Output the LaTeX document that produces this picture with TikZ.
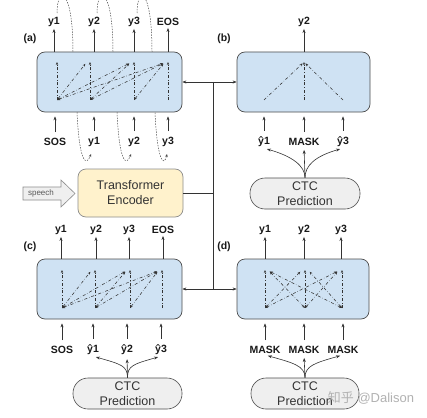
\documentclass[tikz,border=0pt]{standalone}
\usepackage{fontspec}
\setmainfont{Liberation Sans}
\newfontfamily\cjk{Noto Sans CJK SC}
\usetikzlibrary{arrows.meta,calc}
\definecolor{boxblue}{HTML}{CFE2F3}
\definecolor{boxyel}{HTML}{FFF2CC}
\definecolor{boxgray}{HTML}{EFEFEF}
\definecolor{edgec}{HTML}{4D4D4D}
\definecolor{lgray}{HTML}{8C8C8C}
\begin{document}
\begin{tikzpicture}[x=1pt,y=-1pt,
  blk/.style={draw=edgec, fill=boxblue, rounded corners=8pt, line width=0.7pt, inner sep=0pt},
  enc/.style={draw=lgray, fill=boxyel, rounded corners=8pt, line width=0.7pt, align=center, text=black!80, font=\fontsize{12.5}{15}\selectfont},
  ctc/.style={draw=edgec, fill=boxgray, rounded corners=15pt, line width=0.6pt, align=center, text=black!80, font=\fontsize{12.5}{14.5}\selectfont, minimum height=31pt},
  lbl/.style={font=\bfseries\fontsize{10.5}{12}\selectfont, inner sep=1pt, text=black!90},
  arr/.style={-{Stealth[length=4pt,width=3pt]}, draw=black!80, line width=0.6pt},
  att/.style={dash dot, line width=0.55pt, draw=black!80, -{Stealth[length=3pt,width=2.4pt]}},
  attb/.style={att, {Stealth[length=3pt,width=2.4pt]}-{Stealth[length=3pt,width=2.4pt]}},
  lp/.style={dash pattern=on 1.5pt off 1.2pt, line width=0.5pt, draw=black!70},
  lpa/.style={lp, -{Stealth[length=3pt,width=2.6pt]}}
]
\useasboundingbox (0,0) rectangle (427,417);
\fill[white] (0,0) rectangle (427,417);

% ---------- dashed loops of (a), drawn behind box
\foreach \xl/\xr/\xs/\xe in {57/73/77/91, 97/113/117/131, 137/152/155/167}{
  \draw[lpa] (\xl,13) .. controls (\xl,-14) and (\xr,-14) .. (\xr,52) -- (\xs,112)
        .. controls (\xs+2,160) and (\xs+9,168) .. (\xe,154);
}

% ---------- boxes
\node[blk, minimum width=145pt, minimum height=60pt] (A) at (109.5,82) {};
\node[blk, minimum width=133pt, minimum height=60pt] (B) at (303.5,82) {};
\node[blk, minimum width=145pt, minimum height=60pt] (C) at (109.5,289) {};
\node[blk, minimum width=132pt, minimum height=60pt] (D) at (303,289) {};
\node[enc, minimum width=105pt, minimum height=48pt] (E) at (130.5,193) {Transformer\\Encoder};

\node[ctc, minimum width=110pt] (CB) at (305,193.5) {CTC\\Prediction};
\node[ctc, minimum width=109pt] (CC) at (127.5,393.5) {CTC\\Prediction};
\node[ctc, minimum width=108pt] (CD) at (305,393.5) {CTC\\Prediction};

% ---------- speech arrow
\draw[draw=lgray, fill=boxgray, line width=0.6pt] (23,187) -- (61,187) -- (61,180) -- (75,193.5) -- (61,207) -- (61,200) -- (23,200) -- cycle;
\node[font=\fontsize{8}{9}\selectfont, text=black!65, inner sep=0pt] (sp) at (41,193.5) {speech};

% ---------- encoder connections
\coordinate (J) at (213,193);
\coordinate (Jt) at (213,82);
\coordinate (Jb) at (213,289);
\draw[line width=0.6pt, draw=black!80] (E.east) -- (J);
\draw[line width=0.6pt, draw=black!80] (Jt) -- (Jb);
\draw[arr] (Jt) -- (A.east);
\draw[arr] (Jt) -- (B.west);
\draw[arr] (Jb) -- (C.east);
\draw[arr] (Jb) -- (D.west);

% ---------- panel letters
\node[lbl] (la) at (30,39) {(a)};
\node[lbl] (lb) at (224,39) {(b)};
\node[lbl] (lc) at (30,247) {(c)};
\node[lbl] (ld) at (224,247) {(d)};

% ---------- (a) labels
\node[lbl] (ao1) at (54,22) {y1};
\node[lbl] (ao2) at (94,22) {y2};
\node[lbl] (ao3) at (134,22) {y3};
\node[lbl] (ao4) at (168,22) {EOS};
\node[lbl] (ai1) at (55,142) {SOS};
\node[lbl] (ai2) at (94,142) {y1};
\node[lbl] (ai3) at (134,142) {y2};
\node[lbl] (ai4) at (168,142) {y3};
\foreach \i in {1,...,4}{
  \draw[arr, shorten >=1pt] (A.north -| ao\i) -- (ao\i.south);
  \draw[arr, shorten <=5pt, shorten >=4pt] (ai\i.north) -- (ai\i.north |- A.south);
}

% ---------- (b) labels
\node[lbl] (bo2) at (304,22) {y2};
\draw[arr, shorten >=1pt] (B.north -| bo2) -- (bo2.south);
\node[lbl] (bi1) at (264,142) {ŷ1};
\node[lbl] (bi2) at (304,142) {MASK};
\node[lbl] (bi3) at (343,142) {ŷ3};
\foreach \i in {1,2,3}{
  \draw[arr, shorten <=5pt, shorten >=4pt] (bi\i.north) -- (bi\i.north |- B.south);
}
\draw[arr, shorten >=3pt] (CB.north) .. controls +(0,-12) and +(28,8) .. (bi1.south);
\draw[arr, shorten >=3pt] (CB.north) -- (bi2.south);
\draw[arr, shorten >=3pt] (CB.north) .. controls +(0,-12) and +(-28,8) .. (bi3.south);

% ---------- (c) labels
\node[lbl] (co1) at (61,230) {y1};
\node[lbl] (co2) at (96,230) {y2};
\node[lbl] (co3) at (129,230) {y3};
\node[lbl] (co4) at (163,230) {EOS};
\node[lbl] (ci1) at (62,350) {SOS};
\node[lbl] (ci2) at (93,350) {ŷ1};
\node[lbl] (ci3) at (127,350) {ŷ2};
\node[lbl] (ci4) at (161,350) {ŷ3};
\foreach \i in {1,...,4}{
  \draw[arr, shorten >=1pt] (C.north -| co\i) -- (co\i.south);
  \draw[arr, shorten <=5pt, shorten >=4pt] (ci\i.north) -- (ci\i.north |- C.south);
}
\draw[arr, shorten >=3pt] (CC.north) .. controls +(0,-12) and +(28,8) .. (ci2.south);
\draw[arr, shorten >=3pt] (CC.north) -- (ci3.south);
\draw[arr, shorten >=3pt] (CC.north) .. controls +(0,-12) and +(-28,8) .. (ci4.south);

% ---------- (d) labels
\node[lbl] (do1) at (265,230) {y1};
\node[lbl] (do2) at (304,230) {y2};
\node[lbl] (do3) at (341,230) {y3};
\node[lbl] (di1) at (265,350) {MASK};
\node[lbl] (di2) at (304,350) {MASK};
\node[lbl] (di3) at (343,350) {MASK};
\foreach \i in {1,2,3}{
  \draw[arr, shorten >=1pt] (D.north -| do\i) -- (do\i.south);
  \draw[arr, shorten <=5pt, shorten >=4pt] (di\i.north) -- (di\i.north |- D.south);
}
\draw[arr, shorten >=3pt] (CD.north) .. controls +(0,-12) and +(28,8) .. (di1.south);
\draw[arr, shorten >=3pt] (CD.north) -- (di2.south);
\draw[arr, shorten >=3pt] (CD.north) .. controls +(0,-12) and +(-28,8) .. (di3.south);

% ---------- inner attention (a)
\foreach \i/\x in {1/57,2/90,3/134,4/168}{
  \coordinate (at\i) at (\x,62);
  \coordinate (ab\i) at (\x,100);
  \draw[att] (ab\i) -- (at\i);
}
\foreach \i/\j in {1/2,1/3,1/4,2/3,2/4,3/4}{
  \draw[attb, shorten >=1pt] (ab\i) -- ($(at\j)+(-4,1)$);
}

% ---------- inner attention (b)
\coordinate (bt) at (304,62);
\foreach \i/\x in {1/264,2/304,3/343}{
  \coordinate (bb\i) at (\x,100);
}
\draw[att, shorten >=2pt] (bb1) -- (bt);
\draw[att] (bb2) -- (bt);
\draw[att, shorten >=2pt] (bb3) -- (bt);

% ---------- inner attention (c)
\foreach \i/\x in {1/62,2/95,3/130,4/162}{
  \coordinate (ct\i) at (\x,270);
  \coordinate (cb\i) at (\x,308);
  \draw[att] (cb\i) -- (ct\i);
}
\foreach \i/\j in {1/2,1/3,1/4,2/3,2/4,3/4}{
  \draw[attb, shorten >=1pt] (cb\i) -- ($(ct\j)+(-4,1)$);
}

% ---------- inner attention (d)
\foreach \i/\x in {1/265,2/305,3/342}{
  \coordinate (dt\i) at (\x,270);
  \coordinate (db\i) at (\x,308);
  \draw[att] (db\i) -- (dt\i);
}
\foreach \i/\j in {1/2,1/3,2/3}{
  \draw[attb, shorten >=1pt] (db\i) -- ($(dt\j)+(-4,1)$);
  \draw[attb, shorten >=1pt] (db\j) -- ($(dt\i)+(4,1)$);
}

% ---------- watermark
\node[text=black!30, font=\fontsize{13}{15}\selectfont, inner sep=0pt] (wm) at (371,398) {{\cjk 知乎} @Dalison};
\end{tikzpicture}
\end{document}
